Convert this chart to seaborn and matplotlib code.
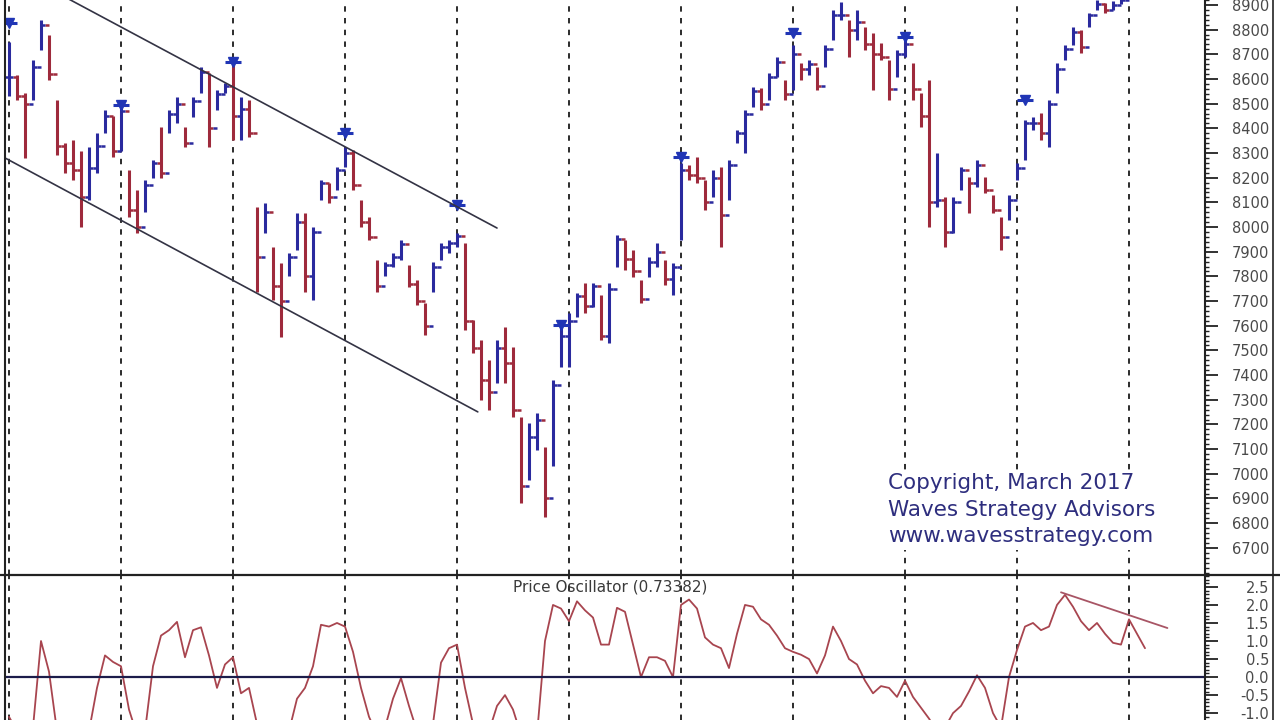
import numpy as np
import pandas as pd
import matplotlib
matplotlib.use("Agg")
import matplotlib.pyplot as plt
from matplotlib.lines import Line2D
from matplotlib.ticker import MultipleLocator
import seaborn as sns

# daily-ish bars (price units)
bar_high = [8750, 8616, 8543, 8677, 8839, 8780, 8515, 8340, 8353, 8310,
            8325, 8380, 8475, 8450, 8490, 8231, 8150, 8190, 8272, 8405,
            8475, 8527, 8405, 8527, 8650, 8625, 8556, 8584, 8670, 8527,
            8515, 8080, 8098, 7920, 7855, 7895, 8057, 8057, 8000, 8191,
            8180, 8245, 8325, 8312, 8110, 8040, 7867, 7860, 7895, 7948,
            7846, 7786, 7693, 7860, 7936, 7948, 7976, 7936, 7624, 7543,
            7462, 7543, 7595, 7515, 7230, 7205, 7245, 7110, 7381, 7595,
            7652, 7733, 7774, 7774, 7725, 7774, 7968, 7948, 7907, 7786,
            7879, 7936, 7867, 7855, 8260, 8252, 8284, 8191, 8231, 8243,
            8272, 8394, 8475, 8568, 8564, 8625, 8690, 8596, 8738, 8665,
            8677, 8649, 8738, 8880, 8912, 8839, 8880, 8811, 8787, 8746,
            8677, 8718, 8758, 8665, 8543, 8596, 8300, 8122, 8122, 8243,
            8203, 8272, 8203, 8130, 8041, 8130, 8260, 8434, 8446, 8462,
            8515, 8665, 8738, 8811, 8799, 8867, 8920, 8908, 8915, 8935,
            8970, 8985, 8990]
bar_low = [8530, 8515, 8280, 8515, 8718, 8596, 8290, 8220, 8190, 8000,
           8110, 8220, 8380, 8285, 8310, 8040, 7976, 8060, 8200, 8200,
           8380, 8420, 8325, 8445, 8545, 8325, 8475, 8545, 8353, 8353,
           8365, 7735, 7976, 7705, 7555, 7800, 7907, 7735, 7705, 8110,
           8098, 8150, 8245, 8150, 8000, 7948, 7735, 7800, 7840, 7867,
           7757, 7685, 7563, 7735, 7867, 7895, 7920, 7583, 7490, 7300,
           7259, 7370, 7370, 7230, 6880, 6975, 7097, 6825, 7030, 7433,
           7433, 7636, 7652, 7676, 7543, 7530, 7838, 7826, 7798, 7693,
           7798, 7838, 7766, 7725, 7948, 8191, 8180, 8069, 8122, 7920,
           8110, 8340, 8300, 8487, 8475, 8515, 8608, 8515, 8556, 8596,
           8616, 8556, 8649, 8758, 8839, 8690, 8758, 8718, 8556, 8677,
           8515, 8608, 8690, 8515, 8405, 8000, 8081, 7920, 7976, 8150,
           8057, 8162, 8138, 8057, 7907, 8029, 8191, 8272, 8394, 8353,
           8325, 8543, 8677, 8738, 8706, 8811, 8880, 8867, 8880, 8905,
           8925, 8935, 8940]
bar_close = [8610, 8530, 8500, 8650, 8820, 8620, 8330, 8260, 8230, 8120,
             8240, 8330, 8450, 8310, 8470, 8070, 8000, 8170, 8260, 8220,
             8460, 8500, 8340, 8510, 8630, 8400, 8540, 8570, 8450, 8480,
             8380, 7880, 8060, 7760, 7700, 7880, 8020, 7800, 7980, 8180,
             8120, 8230, 8300, 8170, 8020, 7960, 7760, 7845, 7880, 7930,
             7770, 7700, 7600, 7840, 7920, 7935, 7965, 7620, 7510, 7380,
             7330, 7510, 7450, 7260, 6950, 7150, 7220, 6900, 7360, 7560,
             7620, 7720, 7680, 7760, 7560, 7750, 7950, 7870, 7820, 7710,
             7860, 7900, 7790, 7840, 8230, 8210, 8200, 8100, 8200, 8050,
             8250, 8380, 8460, 8550, 8500, 8610, 8670, 8540, 8700, 8640,
             8660, 8570, 8720, 8860, 8860, 8800, 8830, 8740, 8700, 8690,
             8560, 8700, 8740, 8560, 8450, 8100, 8110, 7980, 8100, 8230,
             8180, 8250, 8150, 8070, 7960, 8110, 8240, 8420, 8420, 8380,
             8500, 8640, 8720, 8790, 8730, 8860, 8905, 8880, 8900, 8920,
             8950, 8960, 8975]

# price oscillator, one value per bar
osc_values = [-1.1, -1.5, -1.8, -1.4, 1.0, 0.15, -1.5, -2.0, -2.2, -2.0,
              -1.5, -0.3, 0.6, 0.42, 0.3, -0.9, -1.6, -1.5, 0.3, 1.15,
              1.3, 1.53, 0.55, 1.3, 1.38, 0.6, -0.3, 0.35, 0.55, -0.45,
              -0.3, -1.3, -2.0, -2.1, -2.0, -1.5, -0.6, -0.3, 0.3, 1.45,
              1.4, 1.5, 1.4, 0.7, -0.3, -1.1, -1.6, -1.4, -0.6, -0.03,
              -0.8, -1.5, -1.8, -1.3, 0.4, 0.8, 0.9, -0.3, -1.3, -1.9,
              -1.5, -0.8, -0.5, -0.9, -1.6, -2.0, -1.6, 1.0, 2.0, 1.9,
              1.55, 2.1, 1.85, 1.65, 0.9, 0.9, 1.92, 1.81, 0.9, 0.0,
              0.55, 0.55, 0.45, 0.0, 2.0, 2.15, 1.9, 1.1, 0.9, 0.8,
              0.25, 1.2, 2.0, 1.95, 1.6, 1.45, 1.15, 0.8, 0.7, 0.62,
              0.5, 0.1, 0.6, 1.4, 1.0, 0.5, 0.35, -0.1, -0.45, -0.25,
              -0.3, -0.55, -0.1, -0.55, -0.85, -1.15, -1.5, -1.4, -1.0, -0.8,
              -0.4, 0.05, -0.3, -1.0, -1.4, 0.0, 0.75, 1.4, 1.5, 1.3,
              1.4, 2.0, 2.28, 1.95, 1.55, 1.3, 1.5, 1.2, 0.95, 0.9,
              1.6, 1.2, 0.8]

period_starts = [0.5, 14.5, 28.5, 42.5, 56.5, 70.5, 84.5, 98.5, 112.5, 126.5, 140.5]
signal_bars = [0, 14, 28, 42, 56, 69, 84, 98, 112, 127]
signal_prices = [8827, 8495, 8669, 8381, 8090, 7604, 8284, 8786, 8770, 8515]

upper_channel_x = [7.5, 61.5]
upper_channel_y = [8932, 7996]
lower_channel_x = [0.0, 59.1]
lower_channel_y = [8280, 7251]
osc_trend_x = [132.0, 145.3]
osc_trend_y = [2.35, 1.36]

price_ticks = list(range(6700, 9000, 100))
osc_ticks = [-1.0, -0.5, 0.0, 0.5, 1.0, 1.5, 2.0, 2.5]

copyright_lines = ["Copyright, March 2017", "Waves Strategy Advisors", "www.wavesstrategy.com"]

UP = "#2a2a9e"
DOWN = "#9e2a3c"
INK = "#222222"

sns.set_style("white")
plt.rcParams["font.family"] = ["DejaVu Sans"]
plt.rcParams["axes.unicode_minus"] = False

df = pd.DataFrame({"high": bar_high, "low": bar_low, "close": bar_close})
df["x"] = np.arange(len(df)) + 0.5
df["open"] = df["close"].shift(1).fillna(df["close"])
df["up"] = df["close"] >= df["open"]
osc_df = pd.DataFrame({"x": np.arange(len(osc_values)) + 0.5, "osc": osc_values})

fig = plt.figure(figsize=(12.8, 7.2), dpi=100)
ax1 = fig.add_axes([5 / 1280, 145 / 720, 1200 / 1280, 575 / 720])
ax2 = fig.add_axes([5 / 1280, 0, 1200 / 1280, 145 / 720])

# OHLC bars
for up, grp in df.groupby("up"):
    c = UP if up else DOWN
    ax1.vlines(grp["x"], grp["low"], grp["high"], colors=c, lw=2.2)
    ax1.hlines(grp["open"], grp["x"] - 0.5, grp["x"], colors=c, lw=1.8)
    ax1.hlines(grp["close"], grp["x"], grp["x"] + 0.5, colors=c, lw=1.8)

sig_x = [df["x"][i] for i in signal_bars]
ax1.plot(sig_x, signal_prices, ls="none", marker="v", ms=7, color="#2035b5")
ax1.plot(sig_x, signal_prices, ls="none", marker="_", ms=11, mew=2.2, color="#2035b5")

sns.lineplot(x=upper_channel_x, y=upper_channel_y, ax=ax1, color="#333344", lw=1.2)
sns.lineplot(x=lower_channel_x, y=lower_channel_y, ax=ax1, color="#333344", lw=1.2)

for ax in (ax1, ax2):
    for xp in period_starts:
        ax.axvline(xp, color="#1a1a1a", lw=1.3, ls=(0, (3, 3.5)), zorder=0)

for k, line in enumerate(copyright_lines):
    ax1.text(0.736, 0.16 - k * 0.0465, line, transform=ax1.transAxes, fontsize=15.5,
             color="#2e2e7e", va="center", ha="left", zorder=5,
             bbox=dict(facecolor="white", edgecolor="none", pad=2.5))

# oscillator
sns.lineplot(data=osc_df, x="x", y="osc", ax=ax2, color="#a8454f", lw=1.3)
sns.lineplot(x=osc_trend_x, y=osc_trend_y, ax=ax2, color="#a85565", lw=1.3)
ax2.axhline(0, color="#1c1c4a", lw=1.6)
ax2.text(0.504, 0.915, "Price Oscillator (0.73382)", transform=ax2.transAxes,
         fontsize=11, color="#3a3a3a", ha="center", va="center")

ax1.set_xlim(0, 150)
ax1.set_ylim(6590, 8920)
ax2.set_xlim(0, 150)
ax2.set_ylim(-1.19, 2.83)

ax1.set_yticks(price_ticks)
ax1.yaxis.set_minor_locator(MultipleLocator(20))
ax2.set_yticks(osc_ticks)
ax2.yaxis.set_minor_locator(MultipleLocator(0.1))

for ax in (ax1, ax2):
    ax.set_xlabel("")
    ax.set_ylabel("")
    ax.set_xticks([])
    ax.yaxis.tick_right()
    ax.tick_params(axis="y", which="major", direction="out", length=9, width=1.3,
                   pad=37, labelsize=10.5, labelcolor="#4a4a4a", color=INK)
    ax.tick_params(axis="y", which="minor", direction="out", length=3, width=1.0, color=INK)
    for lab in ax.get_yticklabels():
        lab.set_ha("right")
    for side in ("left", "right"):
        ax.spines[side].set_visible(True)
        ax.spines[side].set_color(INK)
        ax.spines[side].set_linewidth(1.5)

ax1.spines["top"].set_visible(False)
ax1.spines["bottom"].set_visible(False)
ax2.spines["top"].set_visible(False)
ax2.spines["bottom"].set_visible(False)

fig.add_artist(Line2D([0, 1], [145 / 720, 145 / 720], color=INK, lw=1.6))
fig.add_artist(Line2D([1273 / 1280, 1273 / 1280], [0, 1], color=INK, lw=1.2))

fig.savefig("out.png", dpi=100)
